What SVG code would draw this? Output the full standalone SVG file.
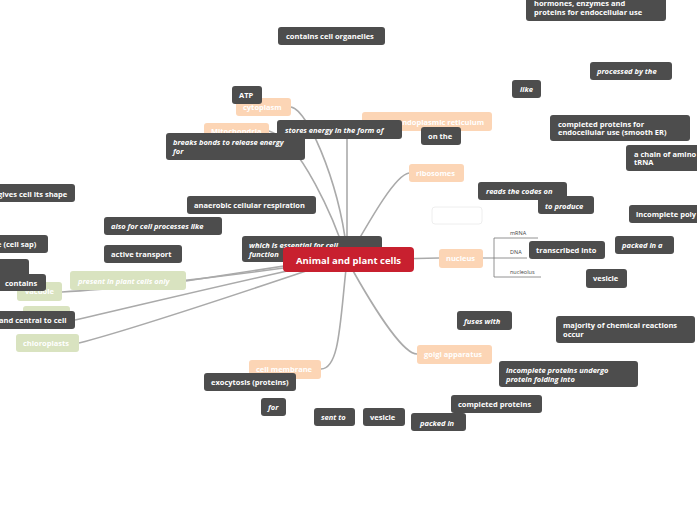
<svg xmlns="http://www.w3.org/2000/svg" width="697" height="520" viewBox="0 0 697 520">
<style>
text{font-family:"Open Sans","Liberation Sans",sans-serif;font-weight:bold;font-size:7.5px;fill:#fff}
.d rect{fill:#4d4d4d}
.p rect{fill:#fcd5b5}
.g rect{fill:#d9e3c0}
.i{font-style:italic}
.c path{fill:none;stroke:#aaa;stroke-width:1.6}
.s{font-size:5.5px;font-weight:normal;fill:#444}
</style>
<rect width="697" height="520" fill="#fff"/>
<g class="c">
<path d="M347,260 C345,200 310,110 291,107"/>
<path d="M347,260 C335,220 300,140 269,131"/>
<path d="M347,260 L347,125"/>
<path d="M347,260 C370,220 395,175 409,173"/>
<path d="M347,260 L439,258"/>
<path d="M347,260 C380,320 405,354 417,354"/>
<path d="M347,260 C340,320 340,369 321,369"/>
<path d="M310,262 L186,281"/>
<path d="M305,265 C200,280 100,290 62,292"/>
<path d="M310,266 C200,290 120,310 75,320"/>
<path d="M315,268 C220,300 130,330 79,343"/>
<path d="M483,258 H494 M494,238 V277 M494,238 H538 M494,258 H527 M494,277 H541" style="stroke:#777;stroke-width:0.8"/>
</g>
<text class="s" x="510" y="235">mRNA</text>
<text class="s" x="510" y="254">DNA</text>
<text class="s" x="510" y="274">nucleolus</text>
<rect x="432" y="207" width="50" height="17" rx="3" fill="#fff" stroke="#eee"/>
<g id="cytoplasm" class="p"><rect x="236" y="98" width="55" height="18" rx="3"/><text x="243" y="110">cytoplasm</text></g>
<g id="mito" class="p"><rect x="204" y="123" width="65" height="17" rx="3"/><text x="211" y="134">Mitochondria</text></g>
<g id="er" class="p"><rect x="362" y="112" width="130" height="19" rx="3"/><text x="484" y="125" text-anchor="end">endoplasmic reticulum</text></g>
<g id="ribosomes" class="p"><rect x="409" y="164" width="55" height="18" rx="3"/><text x="416" y="176">ribosomes</text></g>
<g id="nucleus" class="p"><rect x="439" y="249" width="44" height="19" rx="3"/><text x="446" y="261">nucleus</text></g>
<g id="golgi" class="p"><rect x="417" y="345" width="75" height="19" rx="3"/><text x="424" y="357">golgi apparatus</text></g>
<g id="membrane" class="p"><rect x="249" y="360" width="72" height="19" rx="3"/><text x="256" y="372">cell membrane</text></g>
<g id="plantonly" class="g"><rect x="70" y="271" width="116" height="19" rx="3"/><text class="i" x="78" y="284">present in plant cells only</text></g>
<g id="vacuole" class="g"><rect x="17" y="282" width="45" height="19" rx="3"/><text x="25" y="294">vacuole</text></g>
<g id="green2" class="g"><rect x="23" y="306" width="47" height="14" rx="3"/></g>
<g id="chloroplasts" class="g"><rect x="16" y="334" width="63" height="18" rx="3"/><text x="23" y="346">chloroplasts</text></g>
<g class="d">
<g id="hormones"><rect x="526" y="-5" width="140" height="26" rx="3"/><text x="534" y="6">hormones, enzymes and</text><text x="534" y="15">proteins for endocellular use</text></g>
<g id="organelles"><rect x="278" y="27" width="107" height="18" rx="3"/><text x="286" y="39">contains cell organelles</text></g>
<g id="processed"><rect x="590" y="62" width="82" height="18" rx="3"/><text class="i" x="597" y="74">processed by the</text></g>
<g id="like"><rect x="512" y="80" width="29" height="18" rx="3"/><text class="i" x="520" y="92">like</text></g>
<g id="atp"><rect x="232" y="86" width="30" height="18" rx="3"/><text x="239" y="98">ATP</text></g>
<g id="stores"><rect x="277" y="120" width="125" height="19" rx="3"/><text class="i" x="285" y="133">stores energy in the form of</text></g>
<g id="onthe"><rect x="421" y="127" width="40" height="18" rx="3"/><text x="428" y="139">on the</text></g>
<g id="completedER"><rect x="550" y="115" width="140" height="26" rx="3"/><text x="558" y="127">completed proteins for</text><text x="558" y="135">endocellular use (smooth ER)</text></g>
<g id="breaks"><rect x="166" y="133" width="139" height="27" rx="3"/><text class="i" x="173" y="145">breaks bonds to release energy</text><text class="i" x="173" y="154">for</text></g>
<g id="chain"><rect x="626" y="145" width="80" height="26" rx="3"/><text x="634" y="157">a chain of amino</text><text x="634" y="165">tRNA</text></g>
<g id="reads"><rect x="478" y="182" width="89" height="18" rx="3"/><text class="i" x="486" y="194">reads the codes on</text></g>
<g id="produce"><rect x="538" y="196" width="56" height="18" rx="3"/><text class="i" x="545" y="209">to produce</text></g>
<g id="incpoly"><rect x="629" y="205" width="80" height="18" rx="3"/><text x="636" y="217">incomplete poly</text></g>
<g id="shape"><rect x="-10" y="184" width="85" height="18" rx="3"/><text x="-2" y="197">gives cell its shape</text></g>
<g id="anaerobic"><rect x="187" y="196" width="129" height="18" rx="3"/><text x="194" y="208">anaerobic cellular respiration</text></g>
<g id="also"><rect x="104" y="217" width="118" height="18" rx="3"/><text class="i" x="111" y="229">also for cell processes like</text></g>
<g id="cellsap"><rect x="-10" y="235" width="58" height="18" rx="3"/><text x="-3" y="247">e (cell sap)</text></g>
<g id="active"><rect x="104" y="245" width="78" height="18" rx="3"/><text x="111" y="257">active transport</text></g>
<g id="essential"><rect x="242" y="236" width="140" height="26" rx="3"/><text class="i" x="249" y="248">which is essential for cell</text><text class="i" x="249" y="257">function</text></g>
<g id="transcribed"><rect x="529" y="241" width="76" height="18" rx="3"/><text x="536" y="253">transcribed into</text></g>
<g id="packeda"><rect x="615" y="236" width="59" height="18" rx="3"/><text class="i" x="622" y="248">packed in a</text></g>
<g id="vesicle1"><rect x="586" y="269" width="41" height="19" rx="3"/><text x="593" y="281">vesicle</text></g>
<g id="blk"><rect x="-5" y="259" width="34" height="18" rx="3"/></g>
<g id="contains"><rect x="-5" y="274" width="51" height="17" rx="3"/><text x="5" y="286">contains</text></g>
<g id="central"><rect x="-10" y="311" width="85" height="18" rx="3"/><text x="-1" y="323">and central to cell</text></g>
<g id="fuses"><rect x="457" y="311" width="55" height="19" rx="3"/><text class="i" x="464" y="324">fuses with</text></g>
<g id="majority"><rect x="556" y="316" width="139" height="27" rx="3"/><text x="563" y="328">majority of chemical reactions</text><text x="563" y="337">occur</text></g>
<g id="exocytosis"><rect x="204" y="373" width="92" height="18" rx="3"/><text x="211" y="385">exocytosis (proteins)</text></g>
<g id="folding"><rect x="499" y="361" width="139" height="26" rx="3"/><text class="i" x="506" y="373">incomplete proteins undergo</text><text class="i" x="506" y="382">protein folding into</text></g>
<g id="completed"><rect x="451" y="395" width="91" height="18" rx="3"/><text x="458" y="407">completed proteins</text></g>
<g id="for2"><rect x="261" y="398" width="25" height="18" rx="3"/><text class="i" x="268" y="410">for</text></g>
<g id="sentto"><rect x="314" y="408" width="41" height="18" rx="3"/><text class="i" x="321" y="420">sent to</text></g>
<g id="vesicle2"><rect x="363" y="408" width="42" height="18" rx="3"/><text x="370" y="420">vesicle</text></g>
<g id="packedin"><rect x="411" y="413" width="55" height="18" rx="3"/><text class="i" x="420" y="426">packed in</text></g>
</g>
<g id="main"><rect x="283" y="247" width="131" height="25" rx="4" fill="#c8202f"/><text x="348.5" y="264" text-anchor="middle" style="font-size:9.5px">Animal and plant cells</text></g>
</svg>
